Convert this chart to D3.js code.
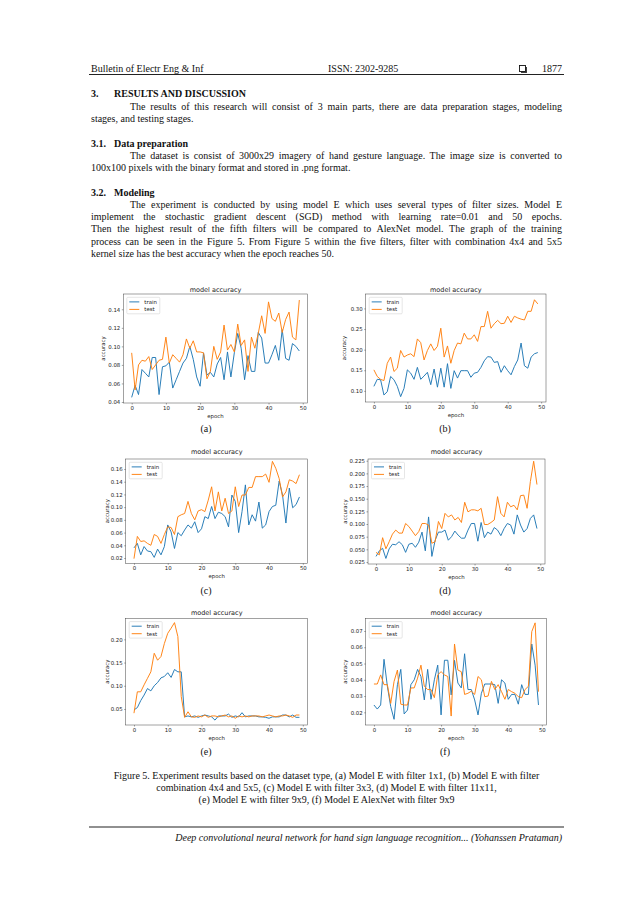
<!DOCTYPE html>
<html>
<head>
<meta charset="utf-8">
<script src="https://cdn.jsdelivr.net/npm/d3@7"></script>
<style>
  html, body { margin: 0; padding: 0; background: #fff; }
  svg { display: block; }
</style>
</head>
<body>
<div id="page"></div>
<script>
// ---- data ----
const epochTicks = [0, 10, 20, 30, 40, 50];

const trainA = [0.045,0.058,0.048,0.075,0.071,0.067,0.088,0.088,0.048,0.078, 0.079,0.083,0.055,0.064,0.073,0.082,0.087,0.100,0.086,0.067, 0.057,0.093,0.069,0.072,0.067,0.081,0.088,0.064,0.094,0.067, 0.093,0.114,0.098,0.064,0.090,0.073,0.073,0.115,0.109,0.082, 0.082,0.091,0.101,0.085,0.118,0.087,0.085,0.103,0.100,0.095];
const testA = [0.093,0.053,0.080,0.085,0.084,0.089,0.075,0.080,0.085,0.086, 0.110,0.082,0.091,0.087,0.083,0.091,0.108,0.098,0.106,0.094, 0.094,0.093,0.065,0.073,0.100,0.086,0.094,0.123,0.096,0.102, 0.094,0.124,0.101,0.107,0.073,0.110,0.098,0.114,0.133,0.114, 0.148,0.130,0.127,0.136,0.115,0.129,0.137,0.110,0.107,0.150];

const trainB = [0.111,0.128,0.127,0.090,0.098,0.135,0.127,0.111,0.086,0.106, 0.151,0.143,0.128,0.157,0.128,0.136,0.145,0.115,0.153,0.109, 0.155,0.109,0.166,0.106,0.149,0.131,0.149,0.149,0.149,0.133, 0.143,0.145,0.157,0.173,0.183,0.182,0.169,0.171,0.145,0.161, 0.149,0.139,0.159,0.175,0.216,0.161,0.155,0.182,0.190,0.193];
const testB = [0.151,0.135,0.128,0.125,0.167,0.182,0.147,0.155,0.198,0.182, 0.187,0.190,0.183,0.226,0.217,0.175,0.198,0.214,0.198,0.208, 0.252,0.182,0.209,0.167,0.198,0.216,0.214,0.240,0.226,0.226, 0.236,0.220,0.256,0.256,0.293,0.252,0.263,0.271,0.263,0.264, 0.281,0.266,0.281,0.277,0.274,0.272,0.293,0.293,0.321,0.311];

const trainC = [0.036,0.043,0.025,0.038,0.031,0.030,0.021,0.034,0.025,0.038, 0.072,0.061,0.035,0.060,0.055,0.064,0.072,0.067,0.077,0.060, 0.066,0.085,0.082,0.101,0.082,0.092,0.090,0.085,0.069,0.119, 0.109,0.060,0.093,0.135,0.072,0.088,0.078,0.108,0.067,0.072, 0.093,0.101,0.103,0.141,0.119,0.075,0.130,0.099,0.104,0.116];
const testC = [0.019,0.054,0.046,0.047,0.043,0.040,0.057,0.054,0.043,0.057, 0.069,0.068,0.057,0.085,0.088,0.090,0.109,0.090,0.080,0.094, 0.096,0.093,0.111,0.132,0.094,0.124,0.094,0.114,0.090,0.094, 0.132,0.101,0.119,0.119,0.131,0.131,0.148,0.148,0.148,0.152, 0.139,0.172,0.161,0.145,0.116,0.124,0.143,0.141,0.137,0.151];

const trainD = [0.036,0.047,0.052,0.032,0.051,0.060,0.059,0.065,0.059,0.044, 0.060,0.062,0.054,0.064,0.084,0.047,0.114,0.036,0.068,0.084, 0.084,0.088,0.068,0.075,0.086,0.078,0.072,0.072,0.088,0.101, 0.101,0.066,0.103,0.073,0.084,0.080,0.093,0.088,0.077,0.091, 0.101,0.098,0.080,0.118,0.098,0.084,0.091,0.111,0.118,0.091];
const testD = [0.044,0.039,0.073,0.051,0.065,0.080,0.088,0.082,0.082,0.101, 0.095,0.086,0.077,0.085,0.101,0.101,0.098,0.062,0.065,0.105, 0.091,0.121,0.114,0.118,0.108,0.113,0.103,0.143,0.124,0.128, 0.128,0.126,0.131,0.099,0.099,0.103,0.108,0.154,0.121,0.114, 0.143,0.134,0.137,0.128,0.156,0.157,0.131,0.184,0.224,0.178];

const trainE = [0.048,0.053,0.068,0.080,0.094,0.089,0.100,0.107,0.117,0.120, 0.128,0.118,0.135,0.130,0.130,0.033,0.035,0.033,0.035,0.032, 0.035,0.037,0.035,0.033,0.026,0.035,0.035,0.035,0.039,0.032, 0.035,0.033,0.042,0.033,0.035,0.035,0.035,0.033,0.033,0.032, 0.030,0.033,0.033,0.033,0.037,0.037,0.033,0.037,0.032,0.032];
const testE = [0.041,0.087,0.087,0.102,0.116,0.130,0.170,0.155,0.163,0.191, 0.213,0.224,0.236,0.206,0.077,0.032,0.044,0.033,0.032,0.035, 0.033,0.037,0.032,0.035,0.035,0.033,0.035,0.037,0.033,0.035, 0.030,0.035,0.033,0.035,0.033,0.035,0.035,0.035,0.033,0.035, 0.037,0.035,0.033,0.035,0.035,0.037,0.035,0.032,0.037,0.037];

const trainF = [0.0245,0.022,0.0245,0.0526,0.036,0.0235,0.0157,0.037,0.0464,0.019, 0.0214,0.037,0.040,0.0464,0.042,0.0276,0.0464,0.028,0.040,0.049, 0.0184,0.052,0.052,0.0307,0.052,0.038,0.035,0.056,0.034,0.034, 0.0276,0.0184,0.0317,0.0374,0.0374,0.0374,0.037,0.0255,0.040,0.038, 0.028,0.031,0.031,0.025,0.037,0.031,0.031,0.062,0.049,0.0245];
const testF = [0.0374,0.0374,0.043,0.037,0.037,0.0255,0.039,0.046,0.025,0.0245, 0.0245,0.035,0.035,0.041,0.049,0.036,0.034,0.034,0.029,0.043, 0.045,0.043,0.042,0.0177,0.062,0.046,0.045,0.031,0.0317,0.033, 0.031,0.042,0.040,0.0296,0.030,0.039,0.034,0.037,0.0327,0.028, 0.034,0.0327,0.0317,0.0296,0.029,0.034,0.036,0.0696,0.075,0.0327];

const yTicksA = [0.04, 0.06, 0.08, 0.10, 0.12, 0.14];
const yTicksB = [0.10, 0.15, 0.20, 0.25, 0.30];
const yTicksC = [0.02, 0.04, 0.06, 0.08, 0.10, 0.12, 0.14, 0.16];
const yTicksD = [0.025, 0.050, 0.075, 0.100, 0.125, 0.150, 0.175, 0.200, 0.225];
const yTicksE = [0.05, 0.10, 0.15, 0.20];
const yTicksF = [0.02, 0.03, 0.04, 0.05, 0.06, 0.07];

const seriesNames = ["train", "test"];
const panelLabels = ["(a)", "(b)", "(c)", "(d)", "(e)", "(f)"];

// ---- layout ----
const W = 638, H = 902;
const serif = "'Liberation Serif', 'Times New Roman', serif";
const sans = "'DejaVu Sans', sans-serif";
const colors = ["#1f77b4", "#ff7f0e"];

const panels = [
  { train: trainA, test: testA, ticks: yTicksA, fmt: ".2f", box: [123.3, 294, 307.7, 403], dom: [0.0389, 0.1565], titleY: 290, ylabX: 103, lab: [206, 428] },
  { train: trainB, test: testB, ticks: yTicksB, fmt: ".2f", box: [365.7, 294, 546, 402], dom: [0.073, 0.335], titleY: 290, ylabX: 344, lab: [445, 428] },
  { train: trainC, test: testC, ticks: yTicksC, fmt: ".2f", box: [125.7, 459, 307.7, 563.3], dom: [0.0117, 0.1757], titleY: 452, ylabX: 106.7, lab: [206, 590] },
  { train: trainD, test: testD, ticks: yTicksD, fmt: ".3f", box: [368, 459, 545, 564], dom: [0.021, 0.2284], titleY: 452, ylabX: 345, lab: [445, 590] },
  { train: trainE, test: testE, ticks: yTicksE, fmt: ".2f", box: [125.7, 618.3, 307.7, 725], dom: [0.0155, 0.2453], titleY: 613, ylabX: 106.7, lab: [206, 751] },
  { train: trainF, test: testF, ticks: yTicksF, fmt: ".2f", box: [365.7, 618.3, 546.7, 725], dom: [0.0122, 0.0778], titleY: 613, ylabX: 345, lab: [445, 751] }
];

const svg = d3.select("#page").append("svg")
  .attr("width", W).attr("height", H)
  .style("background", "#fff");

// text helper: optional justification to a given width
function line(str, x, y, opt = {}) {
  const t = svg.append("text")
    .attr("x", x).attr("y", y)
    .attr("font-family", serif)
    .attr("font-size", opt.size || 10)
    .attr("fill", "#111")
    .text(str);
  if (opt.bold) t.attr("font-weight", "bold");
  if (opt.italic) t.attr("font-style", "italic");
  if (opt.anchor) t.attr("text-anchor", opt.anchor);
  if (opt.width) {
    const natural = t.node().getComputedTextLength();
    const gaps = str.split(" ").length - 1;
    t.style("word-spacing", ((opt.width - natural) / gaps) + "px");
  }
  return t;
}

// ---- page header ----
line("Bulletin of Electr Eng & Inf", 91, 71.5);
line("ISSN: 2302-9285", 328, 71.5);
line("1877", 562, 71.5, { anchor: "end" });
svg.append("rect").attr("x", 519.5).attr("y", 65.5).attr("width", 6).attr("height", 6)
  .attr("fill", "#fff").attr("stroke", "#111").attr("stroke-width", 0.9);
svg.append("line").attr("x1", 521).attr("x2", 526.5).attr("y1", 72.3).attr("y2", 72.3).attr("stroke", "#111").attr("stroke-width", 1);
svg.append("line").attr("x1", 526.3).attr("x2", 526.3).attr("y1", 67).attr("y2", 72.8).attr("stroke", "#111").attr("stroke-width", 1);
svg.append("line").attr("x1", 89).attr("x2", 564).attr("y1", 74.5).attr("y2", 74.5)
  .attr("stroke", "#222").attr("stroke-width", 1.2);

// ---- body text ----
const L = 91, R = 562, IND = 130;
line("3.", L, 96.5, { bold: true });
line("RESULTS AND DISCUSSION", 114, 96.5, { bold: true });
line("The results of this research will consist of 3 main parts, there are data preparation stages, modeling", IND, 109.5, { width: R - IND });
line("stages, and testing stages.", L, 121.5);
line("3.1.", L, 146.5, { bold: true });
line("Data preparation", 114, 146.5, { bold: true });
line("The dataset is consist of 3000x29 imagery of hand gesture language. The image size is converted to", IND, 158.5, { width: R - IND });
line("100x100 pixels with the binary format and stored in .png format.", L, 170.5);
line("3.2.", L, 195.5, { bold: true });
line("Modeling", 114, 195.5, { bold: true });
line("The experiment is conducted by using model E which uses several types of filter sizes. Model E", IND, 207.5, { width: R - IND });
line("implement the stochastic gradient descent (SGD) method with learning rate=0.01 and 50 epochs.", L, 220, { width: R - L });
line("Then the highest result of the fifth filters will be compared to AlexNet model. The graph of the training", L, 232, { width: R - L });
line("process can be seen in the Figure 5. From Figure 5 within the five filters, filter with combination 4x4 and 5x5", L, 244.5, { width: R - L });
line("kernel size has the best accuracy when the epoch reaches 50.", L, 256.5);

// ---- the six panels ----
panels.forEach((p, k) => {
  const [x0, y0, x1, y1] = p.box;
  const x = d3.scaleLinear().domain([-2.45, 51.45]).range([x0, x1]);
  const y = d3.scaleLinear().domain(p.dom).range([y1, y0]);
  const g = svg.append("g");

  const xAxis = g.append("g").attr("transform", `translate(0,${y1})`)
    .call(d3.axisBottom(x).tickValues(epochTicks).tickSize(1.5).tickPadding(1.5));
  const yAxis = g.append("g").attr("transform", `translate(${x0},0)`)
    .call(d3.axisLeft(y).tickValues(p.ticks).tickFormat(d3.format(p.fmt)).tickSize(1.5).tickPadding(1.5));
  [xAxis, yAxis].forEach(a => {
    a.select(".domain").remove();
    a.selectAll("line").attr("stroke", "#444").attr("stroke-width", 0.5);
    a.selectAll("text").attr("font-family", sans).attr("font-size", 5.4).attr("fill", "#222");
  });

  const ln = d3.line().x((d, i) => x(i)).y(d => y(d));
  [p.train, p.test].forEach((s, j) => {
    g.append("path").datum(s)
      .attr("fill", "none").attr("stroke", colors[j])
      .attr("stroke-width", 0.95).attr("stroke-linejoin", "round")
      .attr("d", ln);
  });

  g.append("rect").attr("x", x0).attr("y", y0)
    .attr("width", x1 - x0).attr("height", y1 - y0)
    .attr("fill", "none").attr("stroke", "#444").attr("stroke-width", 0.5);

  // legend
  const lg = g.append("g").attr("transform", `translate(${x0 + 3.5},${y0 + 3.3})`);
  lg.append("rect").attr("width", 33).attr("height", 16.5).attr("rx", 1)
    .attr("fill", "#fff").attr("fill-opacity", 0.8)
    .attr("stroke", "#ccc").attr("stroke-width", 0.5);
  seriesNames.forEach((n, j) => {
    const yy = 4.6 + j * 7.5;
    lg.append("line").attr("x1", 2.5).attr("x2", 12.5).attr("y1", yy).attr("y2", yy)
      .attr("stroke", colors[j]).attr("stroke-width", 0.95);
    lg.append("text").attr("x", 17.5).attr("y", yy + 2)
      .attr("font-family", sans).attr("font-size", 5.4).attr("fill", "#222").text(n);
  });

  // titles and axis labels
  g.append("text").attr("x", (x0 + x1) / 2).attr("y", p.titleY + 2.3)
    .attr("text-anchor", "middle").attr("font-family", sans).attr("font-size", 6.5)
    .attr("fill", "#222").text("model accuracy");
  g.append("text").attr("x", (x0 + x1) / 2).attr("y", y1 + 14.7)
    .attr("text-anchor", "middle").attr("font-family", sans).attr("font-size", 5.4)
    .attr("fill", "#222").text("epoch");
  g.append("text")
    .attr("transform", `translate(${p.ylabX + 2},${(y0 + y1) / 2}) rotate(-90)`)
    .attr("text-anchor", "middle").attr("font-family", sans).attr("font-size", 5.4)
    .attr("fill", "#222").text("accuracy");

  line(panelLabels[k], p.lab[0], p.lab[1] + 3.5, { anchor: "middle" });
});

// ---- figure caption ----
const C = (L + R) / 2;
line("Figure 5. Experiment results based on the dataset type, (a) Model E with filter 1x1, (b) Model E with filter", C, 778.5, { anchor: "middle" });
line("combination 4x4 and 5x5, (c) Model E with filter 3x3, (d) Model E with filter 11x11,", C, 790.5, { anchor: "middle" });
line("(e) Model E with filter 9x9, (f) Model E AlexNet with filter 9x9", C, 803, { anchor: "middle" });

// ---- footer ----
svg.append("line").attr("x1", 89).attr("x2", 564).attr("y1", 827).attr("y2", 827)
  .attr("stroke", "#222").attr("stroke-width", 1.2);
line("Deep convolutional neural network for hand sign language recognition... (Yohanssen Prataman)", 562, 840.5, { italic: true, anchor: "end" });
</script>
</body>
</html>
